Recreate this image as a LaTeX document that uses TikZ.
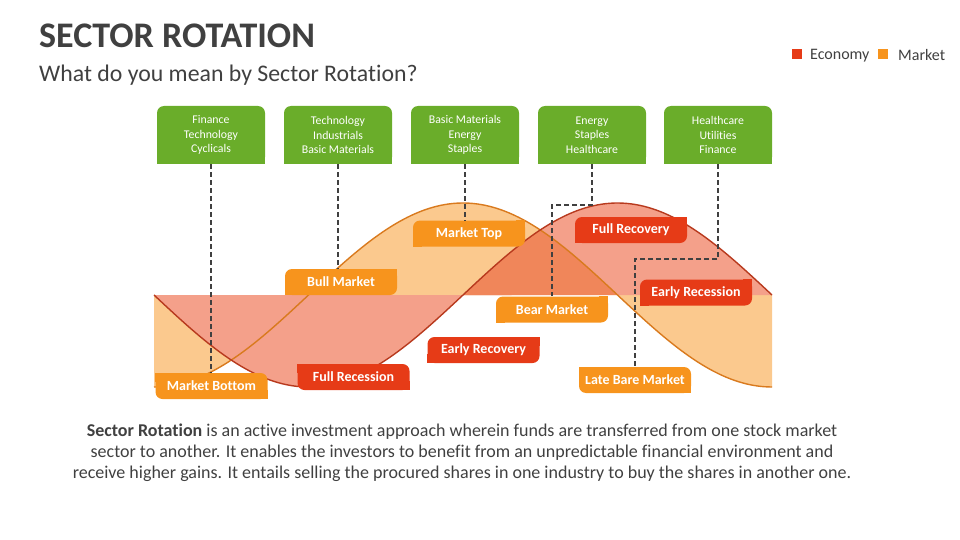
\documentclass[tikz,border=0pt]{standalone}
\usepackage{fontspec}
\setmainfont[Ligatures=NoCommon]{Carlito}
\definecolor{txtgray}{HTML}{404040}
\definecolor{peach}{HTML}{FBC98E}
\definecolor{salmon}{HTML}{F4A08A}
\definecolor{overlapc}{HTML}{F0865A}
\definecolor{mkline}{HTML}{D97A1E}
\definecolor{ecline}{HTML}{B83A1E}
\definecolor{orlab}{HTML}{F7941D}
\definecolor{rdlab}{HTML}{E63B17}
\definecolor{grn}{HTML}{6AAD2A}
\tikzset{
  greenbox/.style={fill=grn, rounded corners=7pt, minimum width=108pt, minimum height=58pt, inner sep=0pt,
     text=white, align=center, font=\fontsize{11.8}{14.5}\selectfont},
  lab/.style={rounded corners=7pt, minimum width=112pt, minimum height=26pt, inner sep=0pt,
     text=white, font=\bfseries\fontsize{14}{15}\selectfont},
  orlabel/.style={lab, fill=orlab},
  rdlabel/.style={lab, fill=rdlab},
  dl/.style={draw=txtgray, line width=1.9pt, dash pattern=on 5pt off 3pt},
}
\newcommand{\sqTRBL}[2]{% square top-right and bottom-left corners
  \fill[#2] (#1.north east) rectangle ++(-9,9);
  \fill[#2] (#1.south west) rectangle ++(9,-9);}
\newcommand{\sqTLBR}[2]{%
  \fill[#2] (#1.north west) rectangle ++(9,9);
  \fill[#2] (#1.south east) rectangle ++(-9,-9);}
\begin{document}
\begin{tikzpicture}[x=1pt,y=-1pt]
\useasboundingbox (0,0) rectangle (960,540);
% title
\node[anchor=base west, inner sep=0pt, text=txtgray, font=\bfseries\fontsize{36}{40}\selectfont] (title) at (39,47.5) {SECTOR ROTATION};
\node[anchor=base west, inner sep=0pt, text=txtgray, font=\fontsize{23.8}{26}\selectfont] (sub) at (39,82) {What do you mean by Sector Rotation?};
% legend
\fill[rdlab] (792,49) rectangle (802,59);
\node[anchor=west, inner sep=0pt, text=txtgray, font=\fontsize{16}{18}\selectfont] (leg1) at (810,55.5) {Economy};
\fill[orlab] (878,49) rectangle (888,59);
\node[anchor=west, inner sep=0pt, text=txtgray, font=\fontsize{16}{18}\selectfont] (leg2) at (898,55.5) {Market};
% fills
\fill[peach] (154,295) -- plot[domain=154:772, samples=150, variable=\x] (\x,{295+92*cos(0.582524*(\x-154))}) -- (772,295) -- cycle;
\fill[salmon] (154,295) -- plot[domain=154:772, samples=150, variable=\x] (\x,{295+92*sin(0.582524*(\x-154))}) -- (772,295) -- cycle;
\begin{scope}
\clip (308.5,295) -- plot[domain=308.5:617.5, samples=80, variable=\x] (\x,{295+92*cos(0.582524*(\x-154))}) -- cycle;
\fill[overlapc] (463,295) -- plot[domain=463:772, samples=80, variable=\x] (\x,{295+92*sin(0.582524*(\x-154))}) -- cycle;
\end{scope}
\draw[mkline, line width=1.4pt] plot[domain=154:772, samples=150, variable=\x] (\x,{295+92*cos(0.582524*(\x-154))});
\draw[ecline, line width=1.4pt] plot[domain=154:772, samples=150, variable=\x] (\x,{295+92*sin(0.582524*(\x-154))});
% green boxes
\node[greenbox] (g1) at (211,135) {Finance\\Technology\\Cyclicals};
\node[greenbox] (g2) at (338,135) {Technology\\Industrials\\Basic Materials};
\node[greenbox] (g3) at (465,135) {Basic Materials\\Energy\\Staples};
\node[greenbox] (g4) at (592,135) {Energy\\Staples\\Healthcare};
\node[greenbox] (g5) at (718,135) {Healthcare\\Utilities\\Finance};
\foreach \g in {g1,g2,g3,g4,g5}{
  \fill[grn] (\g.south west) rectangle ++(10,-10);
  \fill[grn] (\g.south east) rectangle ++(-10,-10);
}
% labels
\node[orlabel] (mtop) at (469,233.5) {Market Top};
\node[orlabel] (bull) at (341,282) {Bull Market};
\node[orlabel] (mbot) at (211.5,386) {Market Bottom};
\node[rdlabel] (frec) at (353.5,377) {Full Recession};
\node[rdlabel] (erecov) at (483.5,350) {Early Recovery};
\node[orlabel] (bear) at (552,309.5) {Bear Market};
\node[rdlabel] (frecov) at (631,230) {Full Recovery};
\node[rdlabel] (erecess) at (696,292.5) {Early Recession};
\node[orlabel] (late) at (635,380) {Late Bare Market};
\sqTRBL{mtop}{orlab}
\sqTRBL{bull}{orlab}
\sqTLBR{mbot}{orlab}
\sqTLBR{frec}{rdlab}
\sqTRBL{erecov}{rdlab}
\sqTRBL{bear}{orlab}
\sqTRBL{frecov}{rdlab}
\sqTRBL{erecess}{rdlab}
\sqTLBR{late}{orlab}
% dashed connectors
\draw[dl] (g1.south) -- (g1.south |- mbot.north);
\draw[dl] (g2.south) -- (g2.south |- bull.north);
\draw[dl] (g3.south) -- (g3.south |- mtop.north);
\draw[dl] (g4.south) -- ++(0,41) -| (bear.north);
\draw[dl] (g5.south) -- ++(0,95) -| (late.north);
% paragraph
\node[align=center, inner sep=0pt, text=txtgray, font=\fontsize{18}{21}\selectfont] (para) at (462,453)
 {\textbf{Sector Rotation} is an active investment approach wherein funds are transferred from one stock market\\
 sector to another. It enables the investors to benefit from an unpredictable financial environment and\\
 receive higher gains. It entails selling the procured shares in one industry to buy the shares in another one.};
\end{tikzpicture}
\end{document}
